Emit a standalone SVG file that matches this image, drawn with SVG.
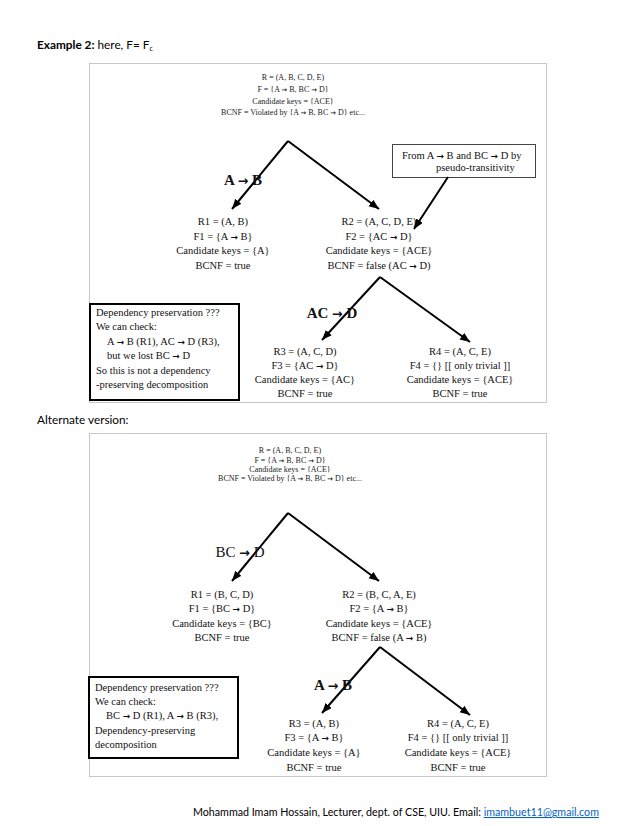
<svg xmlns="http://www.w3.org/2000/svg" width="638" height="826" viewBox="0 0 638 826">
<defs>
<marker id="ah" markerUnits="userSpaceOnUse" markerWidth="11" markerHeight="9" refX="10" refY="4" orient="auto">
<path d="M0,0 L10,4 L0,8 z" fill="#000"/>
</marker>
<style>
.pg{font-family:Lato,"Open Sans",sans-serif;font-size:11px;fill:#000}
.hd{font-family:"Liberation Serif",serif;font-size:8px;fill:#222;text-anchor:middle}
.nd{font-family:"Liberation Serif",serif;font-size:10.5px;fill:#111;text-anchor:middle}
.bx{font-family:"Liberation Serif",serif;font-size:10.5px;fill:#111}
.lb{font-family:"Liberation Serif",serif;font-size:15px;fill:#111;text-anchor:middle}
.a{font-family:"DejaVu Sans",sans-serif;font-weight:bold;font-size:0.85em}
.fr{fill:#fff;stroke:#c8c8c8;stroke-width:1}
.ar{stroke:#000;stroke-width:2;fill:none;marker-end:url(#ah)}
</style>
</defs>
<rect width="638" height="826" fill="#fff"/>

<text class="pg" x="37" y="49" style="font-size:11.8px"><tspan font-weight="bold">Example 2:</tspan> here, F= F<tspan style="font-size:7px" dy="2">c</tspan></text>

<!-- Figure 1 -->
<g id="figure1">
<rect class="fr" x="89.5" y="63.5" width="457" height="339"/>
</g>
<g id="f1-header">
<text class="hd" x="293" y="80">R = (A, B, C, D, E)</text>
<text class="hd" x="293" y="92">F = {A <tspan class="a">→</tspan> B, BC <tspan class="a">→</tspan> D}</text>
<text class="hd" x="293" y="104">Candidate keys = {ACE}</text>
<text class="hd" x="293" y="115">BCNF = Violated by {A <tspan class="a">→</tspan> B, BC <tspan class="a">→</tspan> D} etc...</text>
</g>
<g id="f1-r1">
<text class="nd" x="223" y="225">R1 = (A, B)</text>
<text class="nd" x="223" y="240">F1 = {A <tspan class="a">→</tspan> B}</text>
<text class="nd" x="223" y="254">Candidate keys = {A}</text>
<text class="nd" x="223" y="269">BCNF = true</text>
</g>
<g id="f1-r2">
<text class="nd" x="379" y="225">R2 = (A, C, D, E)</text>
<text class="nd" x="379" y="240">F2 = {AC <tspan class="a">→</tspan> D}</text>
<text class="nd" x="379" y="254">Candidate keys = {ACE}</text>
<text class="nd" x="379" y="269">BCNF = false (AC <tspan class="a">→</tspan> D)</text>
</g>
<g id="f1-note">
<rect x="392.5" y="144.5" width="143" height="33" fill="#fff" stroke="#444" stroke-width="1"/>
<text class="bx" x="402" y="159">From A <tspan class="a">→</tspan> B and BC <tspan class="a">→</tspan> D by</text>
<text class="bx" x="436" y="171">pseudo-transitivity</text>
</g>
<g id="f1-dep">
<rect x="90" y="304" width="149" height="96" fill="#fff" stroke="#000" stroke-width="2"/>
<text class="bx" x="96" y="316">Dependency preservation ???</text>
<text class="bx" x="96" y="330">We can check:</text>
<text class="bx" x="107" y="345">A <tspan class="a">→</tspan> B (R1), AC <tspan class="a">→</tspan> D (R3),</text>
<text class="bx" x="107" y="359">but we lost BC <tspan class="a">→</tspan> D</text>
<text class="bx" x="96" y="374">So this is not a dependency</text>
<text class="bx" x="96" y="388">-preserving decomposition</text>
</g>
<g id="f1-r3">
<text class="nd" x="305" y="355">R3 = (A, C, D)</text>
<text class="nd" x="305" y="369">F3 = {AC <tspan class="a">→</tspan> D}</text>
<text class="nd" x="305" y="383">Candidate keys = {AC}</text>
<text class="nd" x="305" y="397">BCNF = true</text>
</g>
<g id="f1-r4">
<text class="nd" x="460" y="355">R4 = (A, C, E)</text>
<text class="nd" x="460" y="369">F4 = {}  [[ only trivial ]]</text>
<text class="nd" x="460" y="383">Candidate keys = {ACE}</text>
<text class="nd" x="460" y="397">BCNF = true</text>
</g>
<g id="f1-connectors">
<path class="ar" d="M288,141 L232,209"/>
<path class="ar" d="M288,141 L379,209"/>
<path class="ar" d="M448,177 L414,229"/>
<path class="ar" d="M380,277 L322,340"/>
<path class="ar" d="M380,277 L470,342"/>
</g>
<text class="lb" font-weight="bold" x="243" y="185">A <tspan class="a">→</tspan> B</text>
<text class="lb" font-weight="bold" x="332" y="318">AC <tspan class="a">→</tspan> D</text>

<text class="pg" x="37" y="424" style="font-size:11.8px">Alternate version:</text>

<!-- Figure 2 -->
<g id="figure2">
<rect class="fr" x="89.5" y="433.5" width="457" height="343"/>
</g>
<g id="f2-header">
<text class="hd" x="290" y="453">R = (A, B, C, D, E)</text>
<text class="hd" x="290" y="463">F = {A <tspan class="a">→</tspan> B, BC <tspan class="a">→</tspan> D}</text>
<text class="hd" x="290" y="472">Candidate keys = {ACE}</text>
<text class="hd" x="290" y="481">BCNF = Violated by {A <tspan class="a">→</tspan> B, BC <tspan class="a">→</tspan> D} etc...</text>
</g>
<g id="f2-r1">
<text class="nd" x="222" y="598">R1 = (B, C, D)</text>
<text class="nd" x="222" y="612">F1 = {BC <tspan class="a">→</tspan> D}</text>
<text class="nd" x="222" y="627">Candidate keys = {BC}</text>
<text class="nd" x="222" y="641">BCNF = true</text>
</g>
<g id="f2-r2">
<text class="nd" x="379" y="598">R2 = (B, C, A, E)</text>
<text class="nd" x="379" y="612">F2 = {A <tspan class="a">→</tspan> B}</text>
<text class="nd" x="379" y="627">Candidate keys = {ACE}</text>
<text class="nd" x="379" y="641">BCNF = false (A <tspan class="a">→</tspan> B)</text>
</g>
<g id="f2-dep">
<rect x="89" y="677" width="149" height="81" fill="#fff" stroke="#000" stroke-width="2"/>
<text class="bx" x="95" y="691">Dependency preservation ???</text>
<text class="bx" x="95" y="705">We can check:</text>
<text class="bx" x="106" y="719">BC <tspan class="a">→</tspan> D (R1), A <tspan class="a">→</tspan> B (R3),</text>
<text class="bx" x="95" y="734">Dependency-preserving</text>
<text class="bx" x="95" y="748">decomposition</text>
</g>
<g id="f2-r3">
<text class="nd" x="314" y="727">R3 = (A, B)</text>
<text class="nd" x="314" y="741">F3 = {A <tspan class="a">→</tspan> B}</text>
<text class="nd" x="314" y="756">Candidate keys = {A}</text>
<text class="nd" x="314" y="771">BCNF = true</text>
</g>
<g id="f2-r4">
<text class="nd" x="458" y="727">R4 = (A, C, E)</text>
<text class="nd" x="458" y="741">F4 = {}  [[ only trivial ]]</text>
<text class="nd" x="458" y="756">Candidate keys = {ACE}</text>
<text class="nd" x="458" y="771">BCNF = true</text>
</g>
<g id="f2-connectors">
<path class="ar" d="M288,513 L232,581"/>
<path class="ar" d="M288,513 L379,581"/>
<path class="ar" d="M380,647 L322,713"/>
<path class="ar" d="M380,647 L470,715"/>
</g>
<text class="lb" x="240" y="557">BC <tspan class="a">→</tspan> D</text>
<text class="lb" font-weight="bold" x="333" y="690">A <tspan class="a">→</tspan> B</text>

<text class="pg" x="193" y="816" style="font-size:10.7px">Mohammad Imam Hossain, Lecturer, dept. of CSE, UIU. Email: <tspan fill="#0563C1" text-decoration="underline">imambuet11@gmail.com</tspan></text>
</svg>
